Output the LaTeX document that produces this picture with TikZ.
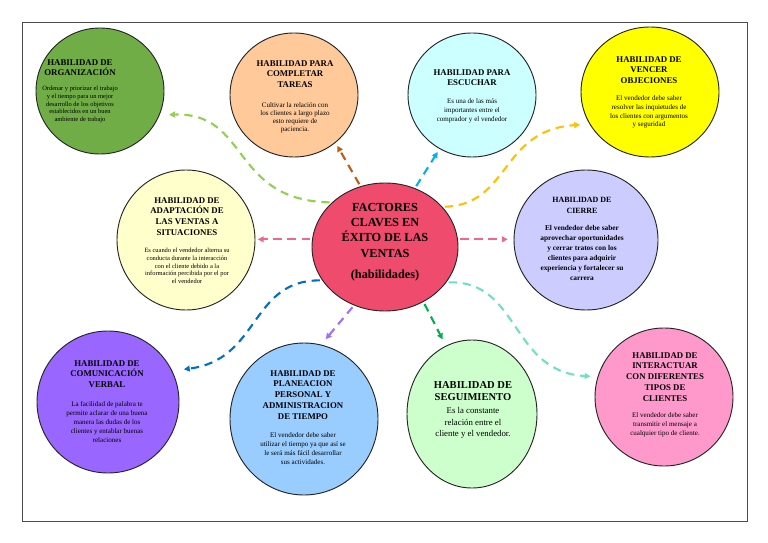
\documentclass[tikz,border=0pt]{standalone}
\usepackage{fontspec}
\setmainfont{Liberation Serif}
\usepackage{xcolor}
\usepackage{tikz}
\usetikzlibrary{positioning, arrows.meta, shapes.geometric}
% circle fills
\definecolor{orgFill}{HTML}{70AD47}
\definecolor{tareaFill}{HTML}{FFC999}
\definecolor{escFill}{HTML}{CCFFFF}
\definecolor{objFill}{HTML}{FFFF00}
\definecolor{adaFill}{HTML}{FFFFCC}
\definecolor{cenFill}{HTML}{EF4B6C}
\definecolor{cieFill}{HTML}{CCCCFF}
\definecolor{comFill}{HTML}{9966FF}
\definecolor{plaFill}{HTML}{99CCFF}
\definecolor{segFill}{HTML}{CCFFCC}
\definecolor{intFill}{HTML}{FF99CC}
% arrow colours
\definecolor{lnkLime}{HTML}{92D050}
\definecolor{lnkBrown}{HTML}{C55A11}
\definecolor{lnkSky}{HTML}{00B0F0}
\definecolor{lnkGold}{HTML}{FFC000}
\definecolor{lnkRose}{HTML}{F2668B}
\definecolor{lnkNavy}{HTML}{0070C0}
\definecolor{lnkViolet}{HTML}{9F70FF}
\definecolor{lnkGreen}{HTML}{00B050}
\definecolor{lnkAqua}{HTML}{6FE0C4}

\newcommand\habfont{\fontsize{7.5}{9.2}\selectfont\bfseries}
\newcommand\descfont{\fontsize{6}{7.6}\selectfont}
% title, gap, description
\newcommand\habtext[3]{{\habfont #1\par}\vspace{#2}{\descfont #3\par}}

\begin{document}
\begin{tikzpicture}[x=0.03cm, y=-0.03cm,
    blob/.style={ellipse, draw=black!85, line width=0.8pt, inner sep=0pt},
    txt/.style={align=flush center, text width=3.3cm, inner sep=0pt, anchor=north},
    lnk/.style={-{Triangle[length=5pt,width=5pt]}, line width=1.8pt,
      dash pattern=on 7pt off 5pt, shorten <=2pt}]
    \fill[white] (0,0) rectangle (768,543);
    \useasboundingbox (0,0) rectangle (768,543);
    \draw[black!70, line width=0.6pt] (22,22) rectangle (747,521);

    % --- circles ---
    \node[blob, fill=orgFill, minimum width=3.84cm, minimum height=3.78cm] (org) at (100,91) {};
    \node[blob, fill=tareaFill, minimum width=3.84cm, minimum height=3.72cm] (tar) at (294,95) {};
    \node[blob, fill=escFill, minimum width=3.84cm, minimum height=3.72cm] (esc) at (472,95) {};
    \node[blob, fill=objFill, minimum width=4.14cm, minimum height=3.9cm] (obj) at (650,92) {};
    \node[blob, fill=adaFill, minimum width=4.14cm, minimum height=4.2cm] (ada) at (186,240) {};
    \node[blob, fill=cenFill, minimum width=4.38cm, minimum height=3.84cm] (cen) at (385,247) {};
    \node[blob, fill=cieFill, minimum width=4.32cm, minimum height=4.2cm] (cie) at (586,240) {};
    \node[blob, fill=comFill, minimum width=4.26cm, minimum height=4.26cm] (com) at (108,402) {};
    \node[blob, fill=plaFill, minimum width=4.44cm, minimum height=4.56cm] (pla) at (304,419) {};
    \node[blob, fill=segFill, minimum width=3.9cm, minimum height=4.44cm] (seg) at (472,414) {};
    \node[blob, fill=intFill, minimum width=4.14cm, minimum height=4.14cm] (int) at (664,397) {};

    % --- texts ---
    \node[txt] (orgtxt) at (80,59) {\habtext{HABILIDAD DE\\ ORGANIZACIÓN}{6pt}
      {\fontsize{5.5}{6.6}\selectfont Ordenar y priorizar el trabajo\\ y el tiempo para un mejor\\
       desarrollo de los objetivos\\ establecidos en un buen\\ ambiente de trabajo}};
    \node[txt] (tartxt) at (295,60) {\habtext{HABILIDAD PARA\\ COMPLETAR\\ TAREAS}{10pt}
      {\fontsize{6}{6.8}\selectfont Cultivar la relación con\\ los clientes a largo plazo\\
       esto requiere de\\ paciencia.}};
    \node[txt] (esctxt) at (472,69) {\habtext{HABILIDAD PARA\\ ESCUCHAR}{7.4pt}
      {Es una de las más\\ importantes entre el\\ comprador y el vendedor}};
    \node[txt] (objtxt) at (649,56) {\habtext{HABILIDAD DE\\ VENCER\\ OBJECIONES}{6.6pt}
      {El vendedor debe saber\\ resolver las inquietudes de\\ los clientes con argumentos\\ y seguridad}};
    \node[txt] (adatxt) at (187,197) {\habtext{HABILIDAD DE\\ ADAPTACIÓN DE\\ LAS VENTAS A\\ SITUACIONES}{8.2pt}
      {\fontsize{5.5}{6.6}\selectfont Es cuando el vendedor alterna su\\ conducta durante la interacción\\
       con el cliente debido a la\\ información percibida por el por\\ el vendedor}};
    \node[txt] (centxt) at (385,203) {\fontsize{10.5}{13}\selectfont\bfseries
      FACTORES\\ CLAVES EN\\ ÉXITO DE LAS\\ VENTAS\par\vspace{6pt}(habilidades)};
    \node[txt] (cietxt) at (582,197) {\habtext{\fontsize{6.8}{9.8}\selectfont HABILIDAD DE\\ CIERRE}{5.7pt}
      {\fontsize{6.3}{8.5}\selectfont\bfseries El vendedor debe saber\\ aprovechar oportunidades\\
       y cerrar tratos con los\\ clientes para adquirir\\ experiencia y fortalecer su\\ carrera}};
    \node[txt] (comtxt) at (107,360) {\habtext{HABILIDAD DE\\ COMUNICACIÓN\\ VERBAL}{8.6pt}
      {La facilidad de palabra te\\ permite aclarar de una buena\\ manera las dudas de los\\
       clientes y entablar buenas\\ relaciones}};
    \node[txt] (platxt) at (303,370) {\habtext{HABILIDAD DE\\ PLANEACION\\ PERSONAL Y\\ ADMINISTRACION\\ DE TIEMPO}{8pt}
      {El vendedor debe saber\\ utilizar el tiempo ya que así se\\ le será más fácil desarrollar\\
       sus actividades.}};
    \node[txt] (segtxt) at (473,381) {\habtext{\fontsize{9}{10.5}\selectfont HABILIDAD DE\\ SEGUIMIENTO}{1pt}
      {\fontsize{7.5}{10}\selectfont Es la constante\\ relación entre el\\ cliente y el vendedor.}};
    \node[txt] (inttxt) at (665,352) {\habtext{HABILIDAD DE\\ INTERACTUAR\\ CON DIFERENTES\\ TIPOS DE\\ CLIENTES}{6.1pt}
      {El vendedor debe saber\\ transmitir el mensaje a\\ cualquier tipo de cliente.}};

    % --- connectors (centre out) ---
    \draw[lnk, lnkLime, shorten >=8pt] (cen.140) .. controls (230,200) and (250,112) .. (org.-22);
    \draw[lnk, lnkBrown, shorten >=3pt] (cen.112) -- (tar.-49);
    \draw[lnk, lnkSky, shorten >=3pt] (cen.63) -- (esc.-121);
    \draw[lnk, lnkGold, shorten >=8pt] (cen.35) .. controls (510,205) and (500,130) .. (obj.208);
    \draw[lnk, lnkRose, shorten >=2pt] (cen.174) -- (cen.174 -| ada.east);
    \draw[lnk, lnkRose, shorten >=5pt] (cen.6) -- (cen.6 -| cie.west);
    \draw[lnk, lnkNavy, shorten >=10pt] (cen.208) .. controls (250,280) and (260,360) .. (com.26);
    \draw[lnk, lnkViolet, shorten >=6pt] (cen.-118) -- (pla.77);
    \draw[lnk, lnkGreen, shorten >=6pt] (cen.-55) -- (seg.111);
    \draw[lnk, lnkAqua, shorten >=6pt] (cen.-30) .. controls (520,280) and (510,372) .. (int.163);
\end{tikzpicture}
\end{document}
